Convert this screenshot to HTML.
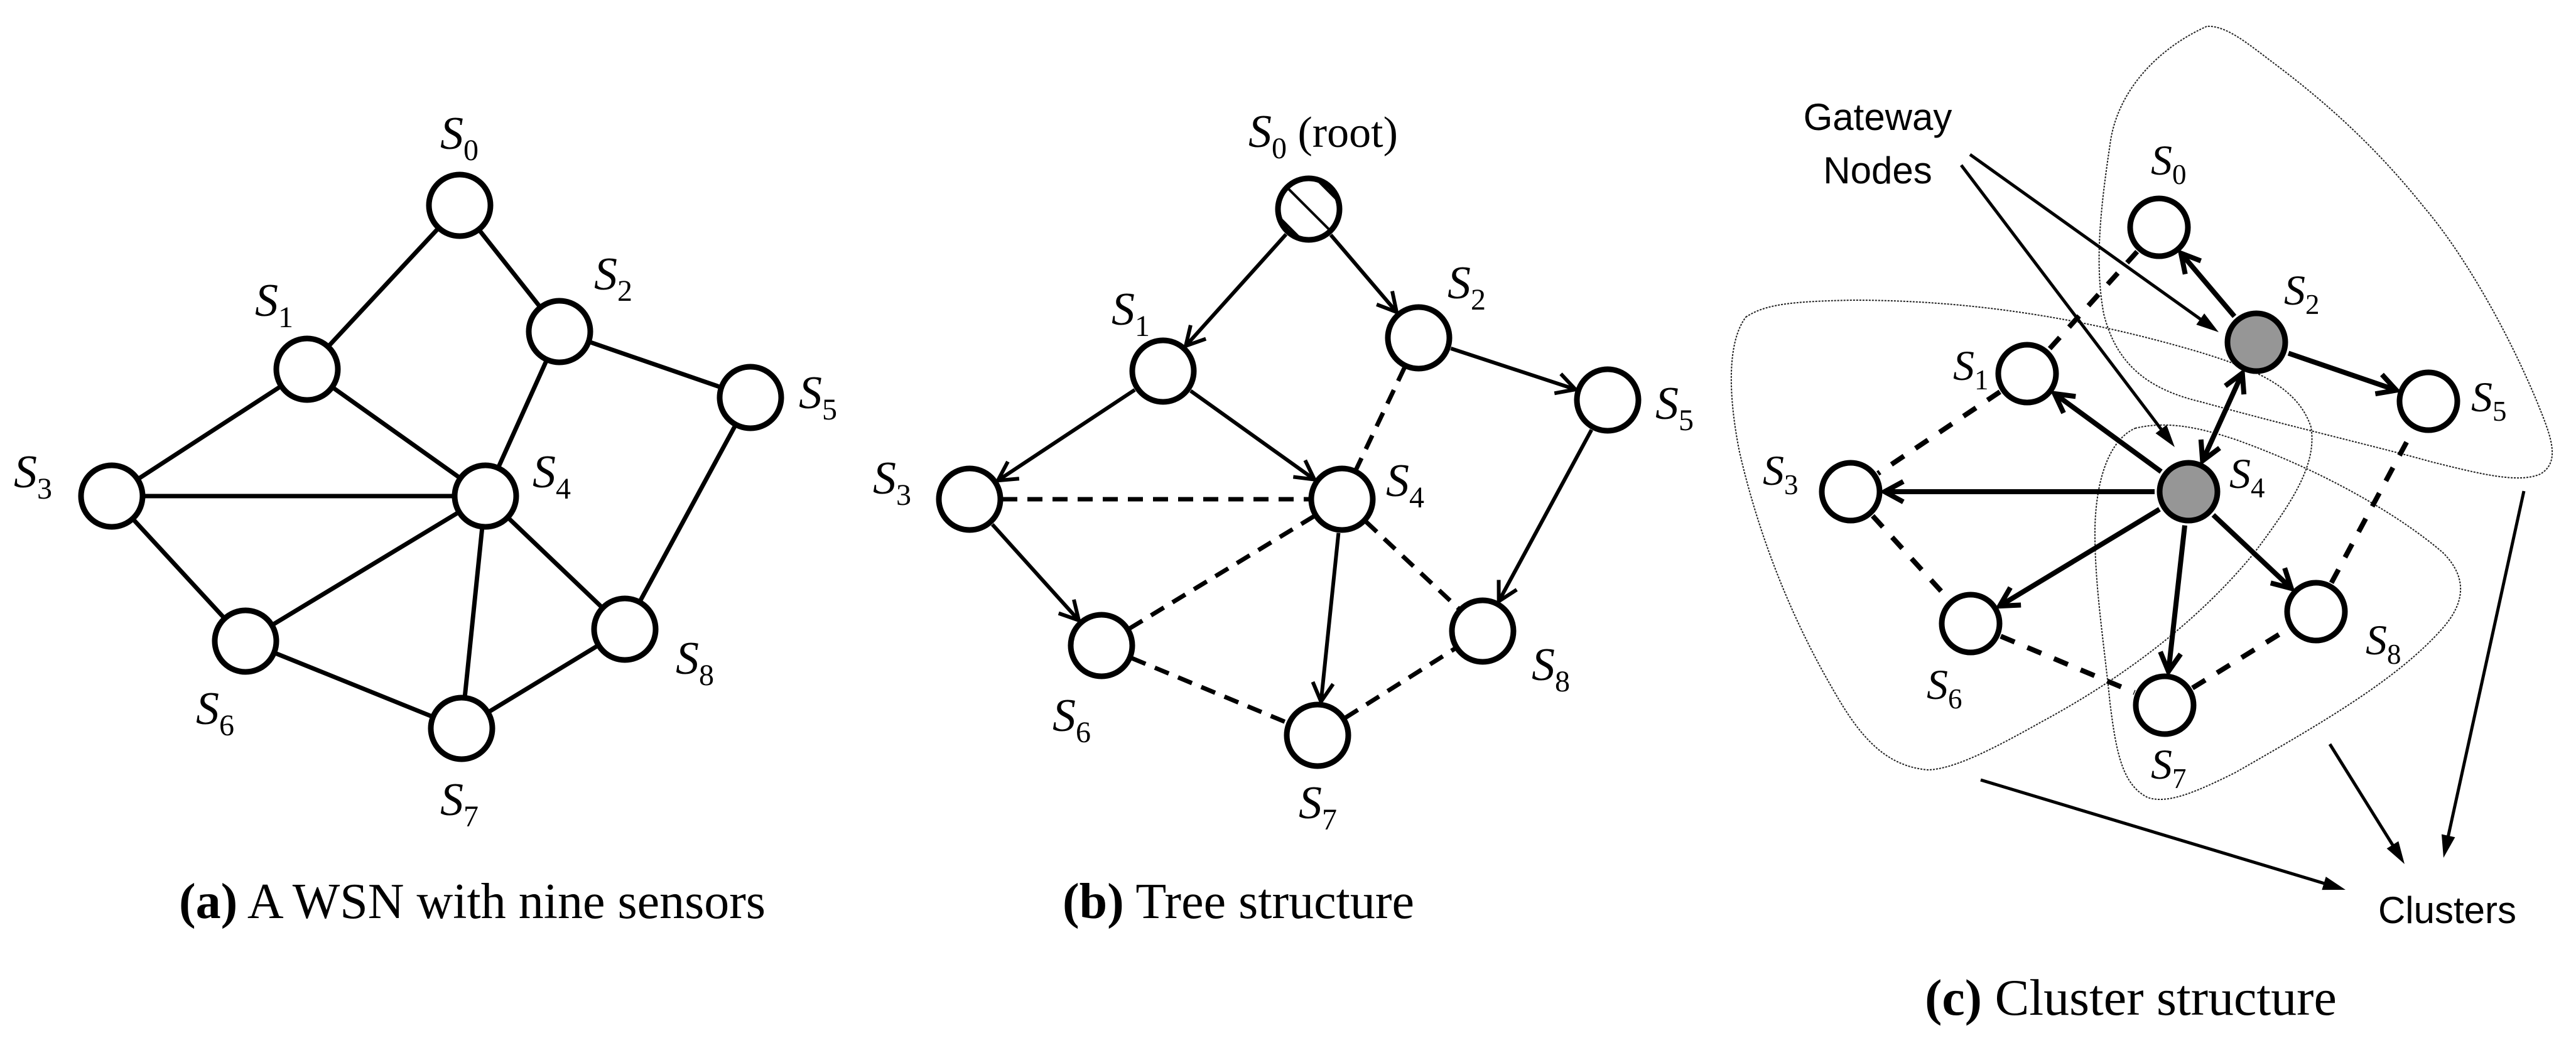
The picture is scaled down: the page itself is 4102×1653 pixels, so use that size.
<!DOCTYPE html>
<html><head><meta charset="utf-8"><style>
html,body{margin:0;padding:0;background:#fff;}
svg{display:block;}
.lb{font-family:"Liberation Serif",serif;font-style:italic;}
.sb{font-family:"Liberation Serif",serif;font-style:normal;}
.cap{font-family:"Liberation Serif",serif;}
.sans{font-family:"Liberation Sans",sans-serif;}
</style></head><body>
<svg id="s" xmlns="http://www.w3.org/2000/svg" width="4102" height="1653" viewBox="0 0 4102 1653">
<rect width="4102" height="1653" fill="#fff"/>
<g id="clusters" fill="none" stroke="#222" stroke-width="2" stroke-dasharray="3,2">
<path d="M3514,42 C3430,80 3370,150 3360,230 C3345,330 3335,420 3350,500 C3370,580 3420,620 3505,640 C3650,680 3800,715 3870,735 C3950,755 4010,770 4045,755 C4080,735 4060,690 4040,640 C3990,520 3920,400 3860,330 C3780,230 3700,160 3620,100 C3580,70 3545,40 3514,42 Z"/>
<path d="M2780,505 C2810,485 2850,480 2950,478 C3150,478 3330,510 3500,560 C3600,590 3660,620 3680,680 C3690,740 3650,800 3590,880 C3500,990 3380,1080 3250,1150 C3170,1195 3110,1225 3070,1226 C3000,1220 2960,1170 2920,1100 C2850,980 2800,850 2770,720 C2752,630 2750,545 2780,505 Z"/>
<path d="M3400,682 C3450,670 3500,680 3560,700 C3700,750 3820,820 3890,880 C3930,920 3925,960 3890,1000 C3820,1080 3700,1150 3560,1230 C3490,1265 3450,1280 3420,1270 C3380,1250 3370,1200 3360,1120 C3350,1020 3335,930 3336,840 C3338,760 3360,700 3400,682 Z"/>
</g>
<g id="lines"></g>
<g id="nodes"></g>
<g id="labels">
<text class="lb" font-size="74" x="701" y="237">S<tspan class="sb" font-size="48" dy="18">0</tspan></text>
<text class="lb" font-size="74" x="406" y="503">S<tspan class="sb" font-size="48" dy="18">1</tspan></text>
<text class="lb" font-size="74" x="946" y="461">S<tspan class="sb" font-size="48" dy="18">2</tspan></text>
<text class="lb" font-size="74" x="1272" y="650">S<tspan class="sb" font-size="48" dy="18">5</tspan></text>
<text class="lb" font-size="74" x="22" y="776">S<tspan class="sb" font-size="48" dy="18">3</tspan></text>
<text class="lb" font-size="74" x="848" y="776">S<tspan class="sb" font-size="48" dy="18">4</tspan></text>
<text class="lb" font-size="74" x="1076" y="1073">S<tspan class="sb" font-size="48" dy="18">8</tspan></text>
<text class="lb" font-size="74" x="312" y="1153">S<tspan class="sb" font-size="48" dy="18">6</tspan></text>
<text class="lb" font-size="74" x="701" y="1298">S<tspan class="sb" font-size="48" dy="18">7</tspan></text>
<text class="lb" font-size="74" x="1988" y="234">S<tspan class="sb" font-size="48" dy="18">0</tspan><tspan class="sb" font-size="70" dy="-18"> (root)</tspan></text>
<text class="lb" font-size="74" x="1770" y="517">S<tspan class="sb" font-size="48" dy="18">1</tspan></text>
<text class="lb" font-size="74" x="2305" y="475">S<tspan class="sb" font-size="48" dy="18">2</tspan></text>
<text class="lb" font-size="74" x="2636" y="667">S<tspan class="sb" font-size="48" dy="18">5</tspan></text>
<text class="lb" font-size="74" x="1390" y="786">S<tspan class="sb" font-size="48" dy="18">3</tspan></text>
<text class="lb" font-size="74" x="2207" y="790">S<tspan class="sb" font-size="48" dy="18">4</tspan></text>
<text class="lb" font-size="74" x="2439" y="1083">S<tspan class="sb" font-size="48" dy="18">8</tspan></text>
<text class="lb" font-size="74" x="1676" y="1164">S<tspan class="sb" font-size="48" dy="18">6</tspan></text>
<text class="lb" font-size="74" x="2068" y="1303">S<tspan class="sb" font-size="48" dy="18">7</tspan></text>
<text class="lb" font-size="68" x="3425" y="278">S<tspan class="sb" font-size="45" dy="15">0</tspan></text>
<text class="lb" font-size="68" x="3637" y="485">S<tspan class="sb" font-size="45" dy="15">2</tspan></text>
<text class="lb" font-size="68" x="3110" y="605">S<tspan class="sb" font-size="45" dy="15">1</tspan></text>
<text class="lb" font-size="68" x="3935" y="655">S<tspan class="sb" font-size="45" dy="15">5</tspan></text>
<text class="lb" font-size="68" x="2807" y="772">S<tspan class="sb" font-size="45" dy="15">3</tspan></text>
<text class="lb" font-size="68" x="3550" y="777">S<tspan class="sb" font-size="45" dy="15">4</tspan></text>
<text class="lb" font-size="68" x="3068" y="1113">S<tspan class="sb" font-size="45" dy="15">6</tspan></text>
<text class="lb" font-size="68" x="3767" y="1042">S<tspan class="sb" font-size="45" dy="15">8</tspan></text>
<text class="lb" font-size="68" x="3425" y="1240">S<tspan class="sb" font-size="45" dy="15">7</tspan></text>
<text class="sans" font-size="60" x="2990" y="207" text-anchor="middle">Gateway</text>
<text class="sans" font-size="60" x="2990" y="292" text-anchor="middle">Nodes</text>
<text class="sans" font-size="60" x="3897" y="1470" text-anchor="middle">Clusters</text>
<text class="cap" font-size="80" x="752" y="1462" text-anchor="middle"><tspan font-weight="bold">(a)</tspan> A WSN with nine sensors</text>
<text class="cap" font-size="80" x="1972" y="1462" text-anchor="middle"><tspan font-weight="bold">(b)</tspan> Tree structure</text>
<text class="cap" font-size="82" x="3393" y="1616" text-anchor="middle"><tspan font-weight="bold">(c)</tspan> Cluster structure</text>
</g>
</svg>
<script>
var NS="http://www.w3.org/2000/svg";
var L=document.getElementById("lines"),N=document.getElementById("nodes");
function el(t,a,p){var e=document.createElementNS(NS,t);for(var k in a)e.setAttribute(k,a[k]);(p||L).appendChild(e);return e;}
function line(x1,y1,x2,y2,w,dash){var a={x1:x1,y1:y1,x2:x2,y2:y2,stroke:"#000","stroke-width":w};if(dash)a["stroke-dasharray"]=dash;el("line",a);}
function vhead(tx,ty,ux,uy,len,w){var ang=0.5;var c=Math.cos(ang),s=Math.sin(ang);
 var ax=-ux*c+uy*s, ay=-uy*c-ux*s, bx=-ux*c-uy*s, by=-uy*c+ux*s;
 el("polyline",{points:(tx+ax*len)+","+(ty+ay*len)+" "+tx+","+ty+" "+(tx+bx*len)+","+(ty+by*len),fill:"none",stroke:"#000","stroke-width":w,"stroke-linecap":"butt"});}
function fhead(tx,ty,ux,uy,len,wd){var px=-uy,py=ux;var bx=tx-ux*len,by=ty-uy*len;
 el("polygon",{points:tx+","+ty+" "+(bx+px*wd)+","+(by+py*wd)+" "+(bx-px*wd)+","+(by-py*wd),fill:"#000"});}
function edge(P,a,b,o){var A=P[a],B=P[b];var dx=B[0]-A[0],dy=B[1]-A[1],d=Math.hypot(dx,dy),ux=dx/d,uy=dy/d;
 var r=o.r;var sx=A[0]+ux*r,sy=A[1]+uy*r,ex=B[0]-ux*r,ey=B[1]-uy*r;
 if(o.dash){line(sx,sy,ex,ey,o.w,o.dash);return;}
 line(o.start?sx+ux*4:sx,o.start?sy+uy*4:sy,o.end?ex-ux*4:ex,o.end?ey-uy*4:ey,o.w);
 if(o.end)vhead(ex,ey,ux,uy,o.hl,o.w);
 if(o.start)vhead(sx,sy,-ux,-uy,o.hl,o.w);}
function node(p,r,fill,sw){el("circle",{cx:p[0],cy:p[1],r:r,fill:fill,stroke:"#000","stroke-width":sw},N);}

var A={0:[732,327],1:[489,588],2:[891,528],5:[1195,633],3:[178,790],4:[773,790],8:[995,1002],6:[391,1021],7:[735,1160]};
[[0,1],[0,2],[1,3],[1,4],[2,4],[2,5],[3,4],[3,6],[4,6],[4,7],[4,8],[5,8],[6,7],[7,8]].forEach(function(e){line(A[e[0]][0],A[e[0]][1],A[e[1]][0],A[e[1]][1],7);});
for(var k in A)node(A[k],49,"#fff",9);

var B={0:[2084,333],1:[1852,591],2:[2259,538],5:[2560,637],3:[1544,795],4:[2137,795],8:[2361,1005],6:[1754,1028],7:[2098,1171]};
var rb=54;
[[0,1],[0,2],[1,3],[1,4],[2,5],[3,6],[4,7],[5,8]].forEach(function(e){edge(B,e[0],e[1],{r:rb,w:6,end:1,hl:34});});
[[2,4],[3,4],[4,6],[4,8],[6,7],[7,8]].forEach(function(e){edge(B,e[0],e[1],{r:rb-2,w:7,dash:"24,16"});});
for(var k in B)node(B[k],49,"#fff",9);
var cp=el("clipPath",{id:"hc"},N);el("circle",{cx:2084,cy:333,r:46},cp);
var hg=el("g",{"clip-path":"url(#hc)",stroke:"#000","stroke-width":4},N);
[-30,0,30].forEach(function(o){el("line",{x1:2034+o,y1:283-o,x2:2134+o,y2:383-o},hg);});

var C={0:[3438,362],2:[3593,545],1:[3228,595],5:[3867,639],3:[2947,783],4:[3485,783],6:[3138,993],8:[3688,974],7:[3447,1123]};
var rc=54;
[[0,1],[1,3],[3,6],[6,7],[7,8],[8,5]].forEach(function(e){edge(C,e[0],e[1],{r:rc-2,w:8,dash:"24,22"});});
[[2,0],[2,5],[4,1],[4,3],[4,6],[4,7],[4,8]].forEach(function(e){edge(C,e[0],e[1],{r:rc,w:8,end:1,hl:34});});
edge(C,2,4,{r:rc,w:8,end:1,start:1,hl:34});
node(C[0],46,"#fff",9);node(C[1],46,"#fff",9);node(C[3],46,"#fff",9);node(C[5],46,"#fff",9);
node(C[6],46,"#fff",9);node(C[7],46,"#fff",9);node(C[8],46,"#fff",9);
node(C[2],46,"#969696",9);node(C[4],46,"#969696",9);
function parrow(x1,y1,x2,y2,w){var dx=x2-x1,dy=y2-y1,d=Math.hypot(dx,dy),ux=dx/d,uy=dy/d;
 line(x1,y1,x2-ux*30,y2-uy*30,w);fhead(x2,y2,ux,uy,36,11);}
parrow(3137,246,3533,529,5);
parrow(3123,263,3463,712,5);
parrow(3154,1242,3735,1417,5);
parrow(3710,1185,3829,1376,5);
parrow(4019,782,3891,1366,5);
</script>
</body></html>
